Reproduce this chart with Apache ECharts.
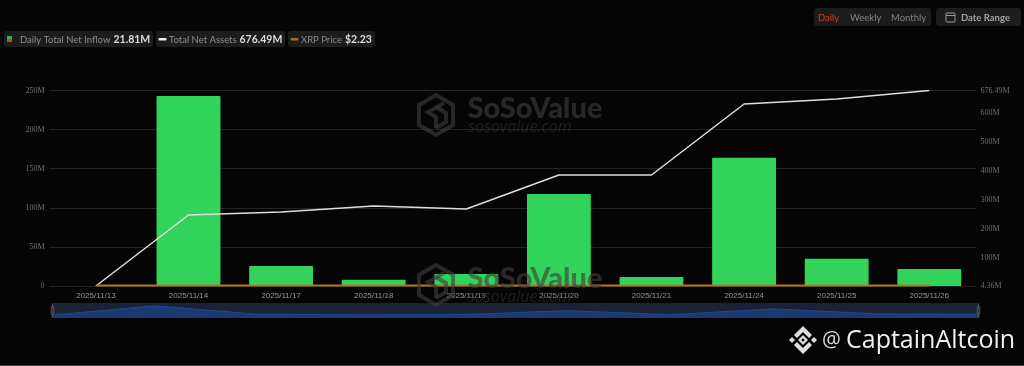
<!DOCTYPE html>
<html><head><meta charset="utf-8">
<style>html,body{margin:0;padding:0;background:#050505}#c{width:1024px;height:366px}</style>
<script src="https://cdn.jsdelivr.net/npm/echarts@6/dist/echarts.min.js"></script></head>
<body><div id="c"></div>
<script>
const categories = ['2025/11/13','2025/11/14','2025/11/17','2025/11/18','2025/11/19','2025/11/20','2025/11/21','2025/11/24','2025/11/25','2025/11/26'];
const netInflow = [0,243,25.5,8,15.5,117.5,11.5,164,35,21.81];
const netAssets = [4.36,248.5,258.8,279,269,386,386,630,647,676.49];
const xrpPrice = [2.2,2.3,2.2,2.2,2.1,2.1,2.0,2.2,2.2,2.23];
const leftTicks = [0,50,100,150,200,250];
const rightTicks = [4.36,100,200,300,400,500,600,676.49];
const legendItems = [
  {name:'Daily Total Net Inflow', value:'21.81M'},
  {name:'Total Net Assets', value:'676.49M'},
  {name:'XRP Price', value:'$2.23'}
];
const periods = ['Daily','Weekly','Monthly'];
const FONT='Lato, "Open Sans", sans-serif';
const WM='rgba(62,62,62,0.62)';
const pill=(x,y,w,h)=>({type:'rect',shape:{x,y,width:w,height:h,r:3},style:{fill:'#1c1c1c'},silent:true});
const txt=(x,y,t,fill,size,weight,extra)=>({type:'text',x,y,style:Object.assign({text:t,fill,fontSize:size,fontWeight:weight||'normal',fontFamily:FONT,textVerticalAlign:'middle'},extra||{}),silent:true});
const wm=(dy)=>[
  {type:'polygon',z:20,y:dy,silent:true,shape:{points:[[436,95],[453,105],[453,125],[436,135],[419,125],[419,105]]},style:{fill:'none',stroke:WM,lineWidth:4}},
  {type:'polyline',z:20,y:dy,silent:true,shape:{points:[[444,103],[428,112],[436,117],[436,128]]},style:{fill:'none',stroke:WM,lineWidth:4}},
  {type:'polyline',z:20,y:dy,silent:true,shape:{points:[[436,107],[446,113],[446,122],[436,128]]},style:{fill:'none',stroke:WM,lineWidth:4}},
  Object.assign(txt(467.5,108.5+dy,'SoSoValue',WM,29,'900',{fontFamily:'Lato,sans-serif'}),{z:20}),
  Object.assign(txt(468,127+dy,'sosovalue.com','rgba(50,50,50,0.6)',16,'normal',{fontStyle:'italic',fontFamily:'"Open Sans",sans-serif'}),{z:20})
];
const LOGO='#dedede';
const poly=(pts,fill)=>({type:'polygon',shape:{points:pts},style:{fill},silent:true,z:30});
const cx=803,cy=340;
const logo=[
  poly([[cx,cy-5],[cx+5,cy],[cx,cy+5],[cx-5,cy]],LOGO),
  poly([[cx,cy-1.8],[cx+1.8,cy],[cx,cy+1.8],[cx-1.8,cy]],'#050505'),
  poly([[cx-14,cy],[cx-11,cy-3],[cx-8,cy],[cx-11,cy+3]],LOGO),
  poly([[cx+14,cy],[cx+11,cy-3],[cx+8,cy],[cx+11,cy+3]],LOGO),
  poly([[cx,cy-14],[cx+9,cy-5],[cx+6,cy-2],[cx,cy-8],[cx-6,cy-2],[cx-9,cy-5]],LOGO),
  poly([[cx,cy+14],[cx+9,cy+5],[cx+6,cy+2],[cx,cy+8],[cx-6,cy+2],[cx-9,cy+5]],LOGO)
];
const chart=echarts.init(document.getElementById('c'),null,{renderer:'canvas'});
chart.setOption({
  backgroundColor:'#050505',
  animation:false,
  legend:{show:false},
  grid:{left:49.6,right:48.4,top:90.5,bottom:80,containLabel:false},
  xAxis:{type:'category',data:categories,
    axisLine:{show:false},axisTick:{show:false},
    axisLabel:{color:'#969696',fontSize:8,fontFamily:'"Liberation Sans",sans-serif',margin:5.5,interval:0}},
  yAxis:[
    {type:'value',min:0,max:250,interval:50,position:'left',
     axisLine:{show:false},axisTick:{show:false},
     splitLine:{lineStyle:{color:'#232323',width:1}},
     axisLabel:{color:'#707070',fontSize:8,fontFamily:'"Liberation Serif",serif',margin:5,
       customValues:leftTicks,formatter:v=>v===0?'0':v+'M'}},
    {type:'value',min:rightTicks[0],max:rightTicks[rightTicks.length-1],position:'right',
     axisLine:{show:false},axisTick:{show:false},splitLine:{show:false},
     axisLabel:{color:'#707070',fontSize:8,fontFamily:'"Liberation Serif",serif',margin:5,
       customValues:rightTicks,formatter:v=>v+'M'}},
    {type:'value',min:0,max:1000,show:false,splitLine:{show:false}}
  ],
  dataZoom:[{type:'slider',xAxisIndex:0,start:0,end:100,left:49,right:47,top:303,height:15,
    backgroundColor:'#1a2336',borderColor:'transparent',fillerColor:'rgba(0,0,0,0)',
    showDetail:false,brushSelect:false,moveHandleSize:0,
    handleSize:'85%',handleStyle:{color:'#333',borderColor:'#555'},
    dataBackground:{lineStyle:{color:'#1c4a94',width:1,opacity:1},areaStyle:{color:'#1c3a70',opacity:1}},
    selectedDataBackground:{lineStyle:{color:'#1c4a94',width:1,opacity:1},areaStyle:{color:'#1c3a70',opacity:1}}}],
  series:[
    {name:'Daily Total Net Inflow',type:'bar',data:netInflow,yAxisIndex:0,barWidth:'69%',
     itemStyle:{color:'#32d35a',borderRadius:[1,1,0,0]}},
    {name:'Total Net Assets',type:'line',data:netAssets,yAxisIndex:1,showSymbol:false,symbol:'none',
     lineStyle:{color:'#dedede',width:1.5}},
    {name:'XRP Price',type:'line',data:xrpPrice,yAxisIndex:2,showSymbol:false,symbol:'none',
     lineStyle:{color:'#b8780c',width:2}}
  ],
  graphic:[
    pill(4,31,149,16),pill(156,31,129,16),pill(288,31,87,16),
    {type:'rect',shape:{x:7,y:36,width:5,height:3},style:{fill:'#2fb84f'},silent:true},
    {type:'rect',shape:{x:7,y:39,width:5,height:3},style:{fill:'#c8402a'},silent:true},
    txt(20,39.5,legendItems[0].name,'#8c8c8c',9.5),
    txt(113.5,39.5,legendItems[0].value,'#dcdcdc',10.5,'bold'),
    {type:'rect',shape:{x:158.5,y:38,width:8,height:2.5,r:1},style:{fill:'#eee'},silent:true},
    txt(169,39.5,legendItems[1].name,'#8c8c8c',9.5),
    txt(239.5,39.5,legendItems[1].value,'#dcdcdc',10.5,'bold'),
    {type:'rect',shape:{x:290.5,y:38,width:8,height:2.5,r:1},style:{fill:'#a86f0c'},silent:true},
    txt(301,39.5,legendItems[2].name,'#8c8c8c',9.5),
    txt(345,39.5,legendItems[2].value,'#dcdcdc',10.5,'bold'),
    pill(814,8,117,18),pill(936,8,85,18),
    txt(818,17.5,periods[0],'#c8401e',9.5),
    txt(850,17.5,periods[1],'#808080',9.5),
    txt(891,17.5,periods[2],'#808080',9.5),
    {type:'rect',shape:{x:946,y:13,width:9,height:9,r:1},style:{fill:'none',stroke:'#999',lineWidth:1},silent:true},
    {type:'line',shape:{x1:946,y1:15.5,x2:955,y2:15.5},style:{stroke:'#999',lineWidth:1},silent:true},
    txt(961,17.5,'Date Range','#a0a0a0',9.5,'bold'),
    ...wm(0),...wm(170),
    ...logo,
    {type:'text',x:822,y:341,z:30,silent:true,style:{text:'@',fill:'#d8d8d8',fontSize:21,fontFamily:'"Open Sans",sans-serif',textVerticalAlign:'middle'}},
    {type:'text',x:846,y:341,z:30,silent:true,style:{text:'CaptainAltcoin',fill:'#f0f0f0',fontSize:25,fontFamily:'"Open Sans",sans-serif',textVerticalAlign:'middle'}},
    {type:'rect',shape:{x:0,y:365,width:1024,height:1},style:{fill:'#3a3a3a'},silent:true}
  ]
});
</script></body></html>
